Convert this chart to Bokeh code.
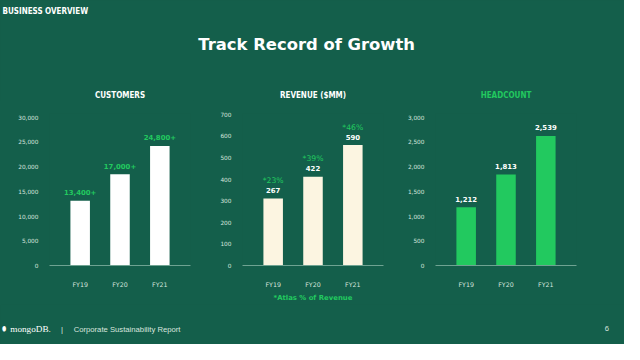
from bokeh.plotting import figure
from bokeh.layouts import column, row
from bokeh.models import (Range1d, FactorRange, ColumnDataSource, LabelSet, Label,
                          FixedTicker, NumeralTickFormatter)
from bokeh.core.properties import value
from bokeh.embed import file_html
from bokeh.resources import INLINE

# ---------------- data ----------------
years = ["FY19", "FY20", "FY21"]
customers_bar = [13100, 18450, 24200]
customers_labels = ["13,400+", "17,000+", "24,800+"]
revenue_bar = [310, 410, 557]
revenue_labels = ["267", "422", "590"]
atlas_labels = ["*23%", "*39%", "*46%"]
headcount_bar = [1180, 1840, 2620]
headcount_labels = ["1,212", "1,813", "2,539"]
customer_ticks = [0, 5000, 10000, 15000, 20000, 25000, 30000]
revenue_ticks = [0, 100, 200, 300, 400, 500, 600, 700]
headcount_ticks = [0, 500, 1000, 1500, 2000, 2500, 3000]
panel_titles = ["CUSTOMERS", "REVENUE ($MM)", "HEADCOUNT"]

# ---------------- style ----------------
BG = "#145F4B"
GREEN = "#22C95F"
CREAM = "#FCF5E1"
WHITE = "#FFFFFF"
TICK = "#D8E5DF"
AXIS = "#6FA392"
WIDE = "DejaVu Sans"
NARROW = "DejaVu Sans Condensed"
CSS = {"background-color": BG}

SX = 624 / 640
SY = 344 / 360
FS = 0.965

# page layout (page px)
HEADER_H = 100
PANEL_H = 204
FOOTER_H = 40
LEFT = 49
FRAME_W = 141
PANEL_W = [193, 193, 238]


def fs(px):
    return f"{px * FS:.1f}px"


def style_fig(p):
    p.outline_line_color = None
    p.background_fill_color = BG
    p.border_fill_color = BG
    p.grid.grid_line_color = None


def make_panel(bars, bar_color, labels, ticks, y_end, width, label_color,
               extra_labels=None, xlabel=None):
    p = figure(x_range=FactorRange(*years, range_padding=0.18),
               y_range=Range1d(0, y_end),
               width=width, height=PANEL_H, output_backend="svg", toolbar_location=None,
               min_border_left=LEFT, min_border_right=width - LEFT - FRAME_W,
               min_border_top=13, min_border_bottom=34, styles=CSS)
    style_fig(p)
    src = ColumnDataSource(dict(x=years, top=bars, lab=labels,
                                extra=extra_labels if extra_labels else [""] * 3))
    p.vbar(x="x", top="top", width=0.49, source=src, fill_color=bar_color,
           line_color=None)
    p.add_layout(LabelSet(x="x", y="top", text="lab", source=src,
                          text_align="center", text_baseline="middle",
                          y_offset=8.5, text_color=label_color,
                          text_font=value(WIDE), text_font_style="bold",
                          text_font_size=value(fs(7.2))))
    if extra_labels:
        p.add_layout(LabelSet(x="x", y="top", text="extra", source=src,
                              text_align="center", text_baseline="middle",
                              y_offset=18, text_color=GREEN,
                              text_font=value(WIDE),
                              text_font_size=value(fs(8))))
    ya = p.yaxis[0]
    ya.ticker = FixedTicker(ticks=ticks)
    ya.formatter = NumeralTickFormatter(format="0,0")
    ya.axis_line_color = None
    ya.major_tick_line_color = None
    ya.minor_tick_line_color = None
    ya.major_label_standoff = 5
    ya.major_label_text_color = TICK
    ya.major_label_text_font = WIDE
    ya.major_label_text_font_size = fs(6)
    xa = p.xaxis[0]
    xa.axis_line_color = AXIS
    xa.axis_line_width = 1
    xa.major_tick_line_color = None
    xa.minor_tick_line_color = None
    xa.major_label_standoff = 9
    xa.major_label_text_color = TICK
    xa.major_label_text_font = WIDE
    xa.major_label_text_font_size = fs(6.5)
    if xlabel:
        xa.axis_label = xlabel
        xa.axis_label_standoff = 3
        xa.axis_label_text_color = GREEN
        xa.axis_label_text_font = WIDE
        xa.axis_label_text_font_style = "bold"
        xa.axis_label_text_font_size = fs(7.2)
    return p


p1 = make_panel(customers_bar, WHITE, customers_labels, customer_ticks, 30750,
                PANEL_W[0], GREEN)
p2 = make_panel(revenue_bar, CREAM, revenue_labels, revenue_ticks, 703,
                PANEL_W[1], WHITE, extra_labels=atlas_labels,
                xlabel="*Atlas % of Revenue")
p3 = make_panel(headcount_bar, GREEN, headcount_labels, headcount_ticks, 3075,
                PANEL_W[2], WHITE)


def blank(height, y0, y1):
    f = figure(width=624, height=height, x_range=Range1d(0, 640),
               y_range=Range1d(y1, y0), output_backend="svg",
               toolbar_location=None, x_axis_type=None, y_axis_type=None,
               min_border=0, styles=CSS)
    style_fig(f)
    return f


header = blank(HEADER_H, 0, HEADER_H / SY)
header.add_layout(Label(x=2, y=12, text="BUSINESS OVERVIEW", text_align="left",
                        text_baseline="middle", text_color=WHITE, text_font=NARROW,
                        text_font_style="bold", text_font_size=fs(8.3)))
header.add_layout(Label(x=314, y=46, text="Track Record of Growth", text_align="center",
                        text_baseline="middle", text_color=WHITE, text_font=WIDE,
                        text_font_style="bold", text_font_size=fs(17)))
# panel titles centred over each plot frame
offset = 0
for name, w in zip(panel_titles, PANEL_W):
    cx = (offset + LEFT + FRAME_W / 2) / SX
    header.add_layout(Label(x=cx, y=99.5, text=name, text_align="center",
                            text_baseline="middle",
                            text_color=GREEN if name == "HEADCOUNT" else WHITE,
                            text_font=NARROW, text_font_style="bold",
                            text_font_size=fs(8.3)))
    offset += w

footer = blank(FOOTER_H, 318, 318 + FOOTER_H / SY)
footer.add_layout(Label(x=2, y=344, text="\u2b2e", text_align="left",
                        text_baseline="middle", text_color=WHITE, text_font=WIDE,
                        text_font_size=fs(7)))
footer.add_layout(Label(x=10, y=344, text="mongoDB.", text_align="left",
                        text_baseline="middle", text_color=WHITE,
                        text_font="Liberation Serif", text_font_size=fs(9.5)))
footer.add_layout(Label(x=63, y=344, text="|", text_align="center",
                        text_baseline="middle", text_color=TICK,
                        text_font="Liberation Sans", text_font_size=fs(8)))
footer.add_layout(Label(x=75, y=344, text="Corporate Sustainability Report",
                        text_align="left", text_baseline="middle", text_color=TICK,
                        text_font="Liberation Sans", text_font_size=fs(8)))
footer.add_layout(Label(x=622, y=343, text="6", text_align="center",
                        text_baseline="middle", text_color=TICK,
                        text_font="Liberation Sans", text_font_size=fs(8)))

layout = column(header, row(p1, p2, p3, spacing=0, styles=CSS), footer,
                spacing=0, styles=CSS)

open("out.html", "w").write(file_html(layout, INLINE))
